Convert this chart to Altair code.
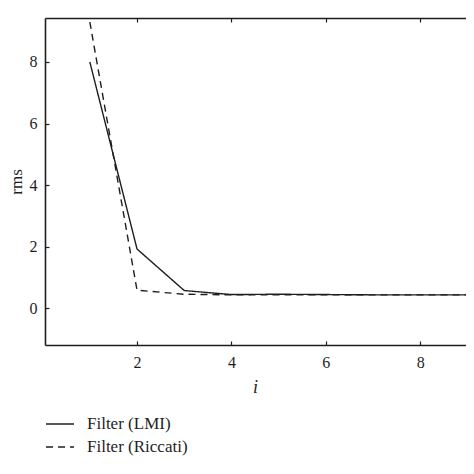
import altair as alt
import pandas as pd

steps = [1, 2, 3, 4, 5, 6, 7, 8, 9, 10]
lmi = [8.0, 1.92, 0.57, 0.44, 0.45, 0.44, 0.43, 0.43, 0.43, 0.43]
riccati = [9.3, 0.58, 0.45, 0.43, 0.43, 0.43, 0.43, 0.43, 0.43, 0.43]
series_names = ["Filter (LMI)", "Filter (Riccati)"]
x_ticks = [2, 4, 6, 8]
y_ticks = [0, 2, 4, 6, 8]

rows = []
for name, vals in zip(series_names, [lmi, riccati]):
    for s, v in zip(steps, vals):
        rows.append({"i": s, "rms": v, "series": name})
df = pd.DataFrame(rows)

W, H = 421, 327
FONT = "Liberation Serif"
INK = "#1e1e1e"

xs = alt.Scale(domain=[0.05, 8.97], nice=False, zero=False)
ys = alt.Scale(domain=[-1.2, 9.43], nice=False, zero=False)

base = alt.Chart(df)

lines = base.mark_line(color=INK, strokeWidth=1.4, clip=True).encode(
    x=alt.X("i:Q", scale=xs, axis=alt.Axis(
        orient="bottom", values=x_ticks, ticks=False, grid=False, domain=True,
        domainColor=INK, domainWidth=1.6, labelFont=FONT, labelFontSize=16,
        labelColor=INK, labelPadding=9, title="i", titleFont=FONT,
        titleFontSize=18, titleFontStyle="italic", titleFontWeight="normal",
        titleColor=INK, titlePadding=8, titleX=210)),
    y=alt.Y("rms:Q", scale=ys, axis=alt.Axis(
        orient="left", values=y_ticks, ticks=False, grid=False, domain=True,
        domainColor=INK, domainWidth=1.6, labelFont=FONT, labelFontSize=16,
        labelColor=INK, labelPadding=8, title="rms", titleFont=FONT,
        titleFontSize=17, titleFontWeight="normal", titleColor=INK,
        titlePadding=4)),
    strokeDash=alt.StrokeDash("series:N", scale=alt.Scale(
        domain=series_names, range=[[1, 0], [7, 5]]),
        legend=alt.Legend(
            title=None, orient="none", legendX=0, legendY=391,
            symbolType="stroke", symbolSize=784, symbolStrokeWidth=1.4,
            symbolStrokeColor=INK, labelFont=FONT, labelFontSize=17,
            labelColor=INK, labelOffset=12, rowPadding=-6)),
)

ticks_bl = base.mark_point(opacity=0).encode(
    x=alt.X("i:Q", scale=xs, axis=alt.Axis(
        orient="top", offset=-H, values=x_ticks, ticks=True, tickSize=4,
        tickColor=INK, tickWidth=1.2, labels=False, domain=False, grid=False,
        title=None)),
    y=alt.Y("rms:Q", scale=ys, axis=alt.Axis(
        orient="right", offset=-W, values=y_ticks, ticks=True, tickSize=4,
        tickColor=INK, tickWidth=1.2, labels=False, domain=False, grid=False,
        title=None)),
)

ticks_top = base.mark_point(opacity=0).encode(
    x=alt.X("i:Q", scale=xs, axis=alt.Axis(
        orient="bottom", offset=-H, values=x_ticks, ticks=True, tickSize=4,
        tickColor=INK, tickWidth=1.2, labels=False, domain=True,
        domainColor=INK, domainWidth=1.6, grid=False, title=None)),
    y=alt.Y("rms:Q", scale=ys, axis=None),
)

chart = alt.layer(lines, ticks_bl, ticks_top).resolve_axis(
    x="independent", y="independent"
).properties(
    width=W, height=H,
    autosize=alt.AutoSizeParams(type="none"),
    padding={"left": 37, "top": 10, "right": 0, "bottom": 112},
).configure_view(stroke=None).configure(background="white")

chart.save("out.html", embed_options={"renderer": "svg", "actions": False})
